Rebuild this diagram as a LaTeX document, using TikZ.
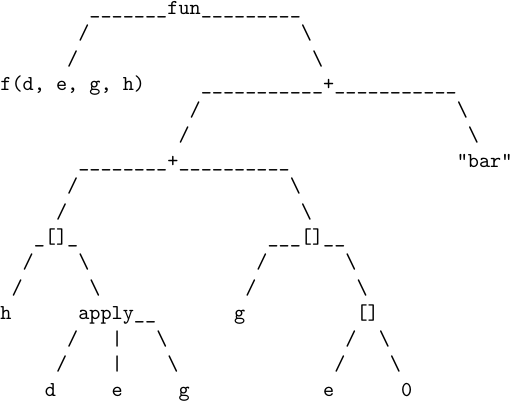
\documentclass[tikz,border=0pt]{standalone}
\tikzset{
  txt/.style={inner sep=0pt, anchor=base west, font=\ttfamily},
}
\begin{document}
\begin{tikzpicture}[x=5.25pt, y=-12pt]
\useasboundingbox (0,-0.57) rectangle (46,15.23);
% labels
\node[txt] (fun) at (8,0) {\_\_\_\_\_\_\_fun\_\_\_\_\_\_\_\_\_};
\node[txt] (args) at (0,3) {f(d, e, g, h)};
\node[txt] (sum) at (18,3) {\_\_\_\_\_\_\_\_\_\_\_+\_\_\_\_\_\_\_\_\_\_\_};
\node[txt] (inner) at (7,6) {\_\_\_\_\_\_\_\_+\_\_\_\_\_\_\_\_\_\_};
\node[txt] (bar) at (41,6) {"bar"};
\node[txt] (lsta) at (3,9) {\_[]\_};
\node[txt] (lstb) at (24,9) {\_\_\_[]\_\_};
\node[txt] (h) at (0,12) {h};
\node[txt] (apply) at (7,12) {apply\_\_};
\node[txt] (ga) at (21,12) {g};
\node[txt] (lstc) at (32,12) {[]};
\node[txt] (d) at (4,15) {d};
\node[txt] (ea) at (10,15) {e};
\node[txt] (gb) at (16,15) {g};
\node[txt] (eb) at (29,15) {e};
\node[txt] (zero) at (36,15) {0};
% branches
\foreach \c/\r [count=\i] in {7/1,6/2,17/4,16/5,6/7,5/8,2/10,1/11,23/10,22/11,6/13,5/14,31/13,30/14}
  \node[txt] (l\i) at (\c,\r) {/};
\foreach \c/\r [count=\i] in {27/1,28/2,41/4,42/5,26/7,27/8,7/10,8/11,31/10,32/11,14/13,15/14,34/13,35/14}
  \node[txt] (r\i) at (\c,\r) {\textbackslash};
\foreach \r [count=\i] in {13,14}
  \node[txt] (m\i) at (10,\r) {|};
\end{tikzpicture}
\end{document}
